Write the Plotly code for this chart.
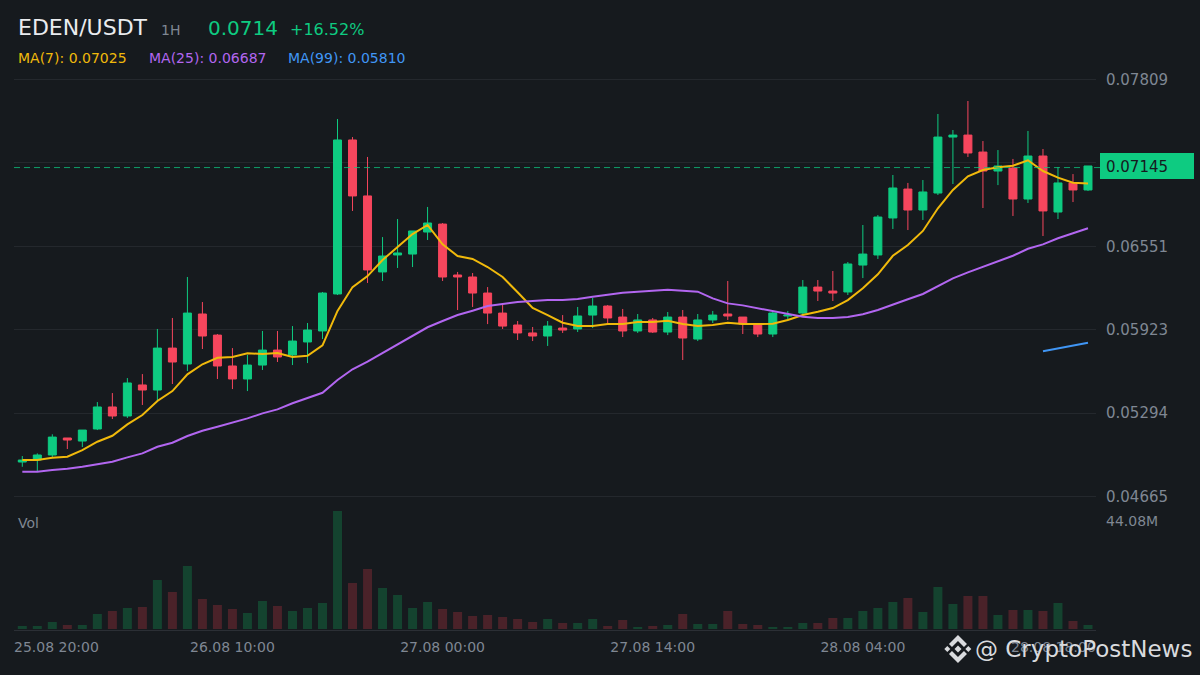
import pandas as pd
import plotly.graph_objects as go

W, H = 1200, 675
BG = "#161A1E"
GREEN = "#0ECB81"
RED = "#F6465D"
FONT = "DejaVu Sans"

hours = pd.date_range("2025-08-25 20:00", periods=72, freq="h")

opens = [.04925, .04940, .04978, .05106, .05083, .05174, .05340, .05272, .05506, .05468, .05784, .05664,
         .06041, .05882, .05649, .05551, .05656, .05769, .05732, .05830, .05913, .06192, .07353, .06931,
         .06358, .06486, .06493, .06659, .06719, .06335, .06320, .06199, .06048, .05958, .05898, .05875,
         .05935, .05928, .06033, .06101, .06018, .05913, .05996, .05905, .06018, .05852, .05996, .06041,
         .06018, .05965, .05890, .06026, .06048, .06244, .06214, .06207, .06410, .06486, .06765, .06983,
         .06825, .06953, .07375, .07390, .07262, .07119, .07142, .06908, .07232, .06810, .07029, .06976]
highs = [.04970, .04990, .05134, .05106, .05166, .05377, .05445, .05558, .05588, .05928, .06011, .06320,
         .06131, .05890, .05784, .05732, .05913, .05913, .05950, .05973, .06207, .07511, .07375, .07225,
         .06621, .06757, .06667, .06848, .06727, .06358, .06350, .06244, .06109, .05988, .05943, .05988,
         .06033, .06094, .06162, .06109, .06079, .06041, .06011, .06056, .06071, .06041, .06064, .06290,
         .06018, .05965, .06056, .06064, .06297, .06297, .06365, .06433, .06712, .06787, .07089, .07029,
         .07051, .07549, .07428, .07647, .07345, .07277, .07210, .07421, .07285, .07149, .07096, .07157]
lows = [.04889, .04852, .04960, .05023, .05038, .05166, .05249, .05257, .05355, .05377, .05513, .05611,
        .05777, .05551, .05475, .05460, .05619, .05679, .05656, .05671, .05852, .06184, .06818, .06275,
        .06290, .06388, .06395, .06599, .06290, .06071, .06094, .05965, .05928, .05845, .05837, .05800,
        .05898, .05905, .05935, .05965, .05867, .05898, .05898, .05882, .05694, .05837, .05973, .05996,
        .05890, .05867, .05867, .05996, .06033, .06139, .06139, .06184, .06312, .06456, .06682, .06674,
        .06750, .06938, .07021, .07225, .06840, .07013, .06780, .06878, .06629, .06757, .06885, .06968]
closes = [.04940, .04978, .05113, .05091, .05166, .05340, .05272, .05521, .05468, .05784, .05679, .06048,
          .05875, .05649, .05551, .05656, .05769, .05717, .05837, .05920, .06199, .07353, .06931, .06373,
          .06478, .06501, .06667, .06727, .06320, .06320, .06199, .06048, .05950, .05898, .05875, .05950,
          .05920, .06026, .06101, .06011, .05913, .05996, .05905, .06018, .05860, .05996, .06033, .06026,
          .05965, .05890, .06048, .06033, .06244, .06214, .06199, .06418, .06493, .06772, .06991, .06825,
          .06961, .07375, .07390, .07255, .07119, .07157, .06908, .07232, .06818, .07029, .06976, .07157]

ma7 = [.04940, .04940, .04957, .04965, .05015, .05078, .05123, .05209, .05279, .05385, .05460, .05586,
       .05662, .05711, .05717, .05745, .05739, .05747, .05717, .05726, .05805, .06064, .06244, .06327,
       .06448, .06544, .06644, .06712, .06566, .06478, .06456, .06395, .06320, .06205, .06086, .06033,
       .05975, .05950, .05950, .05965, .05965, .05981, .05981, .05990, .05965, .05950, .05958, .05975,
       .05965, .05965, .05968, .05996, .06033, .06058, .06086, .06146, .06235, .06340, .06480, .06561,
       .06667, .06838, .06976, .07079, .07127, .07147, .07159, .07200, .07119, .07069, .07031, .07025]
ma25 = [.04852, .04852, .04865, .04874, .04889, .04910, .04927, .04960, .04990, .05040, .05070, .05121,
        .05161, .05191, .05221, .05254, .05292, .05322, .05368, .05405, .05447, .05543, .05624, .05681,
        .05745, .05807, .05875, .05941, .05988, .06033, .06066, .06101, .06116, .06131, .06139, .06146,
        .06146, .06154, .06171, .06186, .06201, .06209, .06216, .06224, .06216, .06209, .06159, .06121,
        .06106, .06084, .06066, .06041, .06020, .06011, .06011, .06018, .06039, .06071, .06114, .06152,
        .06192, .06252, .06310, .06355, .06398, .06443, .06480, .06533, .06566, .06612, .06649, .06687]
ma99 = [.05760, .05781, .05803, .05824]

# volume in millions
volumes = [1.12, 1.12, 2.61, 1.49, 1.49, 5.60, 6.72, 7.84, 8.22, 18.30, 13.82, 23.53,
           11.21, 8.97, 7.47, 5.98, 10.46, 8.59, 6.72, 7.84, 9.71, 44.08, 17.18, 22.41,
           15.32, 12.70, 7.84, 10.09, 7.47, 6.35, 4.86, 5.23, 4.48, 3.74, 2.61, 3.74,
           2.24, 2.24, 3.74, 1.12, 3.36, 0.75, 1.12, 1.49, 5.60, 1.87, 1.87, 6.72,
           1.87, 1.49, 0.75, 0.75, 2.24, 2.24, 4.11, 4.11, 6.72, 7.84, 10.09, 11.58,
           6.35, 15.69, 9.34, 12.33, 12.33, 5.23, 7.10, 7.10, 6.72, 9.71, 2.99, 1.49]

price_ticks = [.04665, .05294, .05923, .06551, .07180, .07809]
price_labels = ["0.04665", "0.05294", "0.05923", "0.06551", "", "0.07809"]
time_ticks = ["2025-08-26 10:00", "2025-08-27 00:00", "2025-08-27 14:00", "2025-08-28 04:00"]
time_labels = ["26.08 10:00", "27.08 00:00", "27.08 14:00", "28.08 04:00"]
last_price = 0.07145


def px(x):
    return x / W


def py(y):
    return 1 - y / H


def poly(points):
    return "M " + " L ".join(f"{px(x):.5f},{py(y):.5f}" for x, y in points) + " Z"


def label(x, y, text, size, color, anchor="left"):
    fig.add_annotation(x=px(x), y=py(y), xref="paper", yref="paper", text=text, showarrow=False,
                       xanchor=anchor, yanchor="middle", xshift=-2 if anchor == "left" else 2,
                       font=dict(family=FONT, size=size, color=color))


fig = go.Figure()

fig.add_trace(go.Candlestick(
    x=hours, open=opens, high=highs, low=lows, close=closes, whiskerwidth=0,
    increasing=dict(line=dict(color=GREEN, width=1), fillcolor=GREEN),
    decreasing=dict(line=dict(color=RED, width=1), fillcolor=RED),
    xaxis="x", yaxis="y"))
fig.add_trace(go.Scatter(x=hours, y=ma7, mode="lines", line=dict(color="#F0B90B", width=2), xaxis="x", yaxis="y"))
fig.add_trace(go.Scatter(x=hours, y=ma25, mode="lines", line=dict(color="#B266F0", width=2), xaxis="x", yaxis="y"))
fig.add_trace(go.Scatter(x=hours[-4:], y=ma99, mode="lines", line=dict(color="#4096F5", width=2), xaxis="x", yaxis="y"))

bar_colors = ["#14432F" if c >= o else "#4A2229" for o, c in zip(opens, closes)]
fig.add_trace(go.Bar(x=hours, y=volumes, marker=dict(color=bar_colors, line=dict(width=0)), xaxis="x", yaxis="y2"))

fig.update_layout(
    width=W, height=H, margin=dict(l=0, r=0, t=0, b=0, pad=0),
    paper_bgcolor=BG, plot_bgcolor=BG, showlegend=False, hovermode=False,
    boxgap=0.467, boxgroupgap=0, bargap=0.4,
    font=dict(family=FONT, color="#7F8793", size=14),
    xaxis=dict(domain=[px(14), px(1096)], anchor="y2", type="date", automargin=False,
               range=["2025-08-25 19:26:48", "2025-08-28 19:32:00"],
               rangeslider=dict(visible=False), showgrid=False, zeroline=False,
               tickvals=time_ticks, ticktext=time_labels, ticks="outside", ticklen=5,
               tickcolor="rgba(0,0,0,0)", tickfont=dict(family=FONT, size=14, color="#7F8793")),
    yaxis=dict(domain=[py(496.5), py(79.5)], anchor="x", side="right", automargin=False,
               range=[price_ticks[0], price_ticks[-1]], tickvals=price_ticks, ticktext=price_labels,
               showgrid=True, gridcolor="#24282D", gridwidth=1, zeroline=False,
               ticks="outside", ticklen=6, tickcolor="rgba(0,0,0,0)",
               tickfont=dict(family=FONT, size=15, color="#7F8793")),
    yaxis2=dict(domain=[py(629), py(511)], anchor="x", side="right", automargin=False, range=[0, 44.08],
                showgrid=False, zeroline=False, showticklabels=False),
)

# grid lines at the two ends of the price range
for y_end in (79.5, 496.5):
    fig.add_shape(type="line", xref="paper", yref="paper", x0=px(14), x1=px(1096), y0=py(y_end), y1=py(y_end),
                  line=dict(color="#24282D", width=1), layer="below")

# current price line and tag, volume baseline
fig.add_shape(type="line", xref="paper", yref="y", x0=px(14), x1=px(1100), y0=last_price, y1=last_price,
              line=dict(color="rgba(14,203,129,0.75)", width=1, dash="6px,4px"))
fig.add_shape(type="rect", xref="paper", yref="paper", x0=px(1100), x1=px(1194), y0=py(179), y1=py(153),
              fillcolor=GREEN, line=dict(width=0))
fig.add_shape(type="line", xref="paper", yref="paper", x0=px(14), x1=px(1096), y0=py(630.5), y1=py(630.5),
              line=dict(color="#2B2F35", width=1))

# watermark logo
LOGO = "#D9DBDE"
diamonds = [(958, 649, 3.5), (947.3, 649, 3), (968.3, 649, 3)]
for cx, cy, r in diamonds:
    fig.add_shape(type="path", xref="paper", yref="paper", line=dict(width=0), fillcolor=LOGO,
                  path=poly([(cx, cy - r), (cx + r, cy), (cx, cy + r), (cx - r, cy)]))
top = [(958, 635), (967, 644), (964, 647), (958, 641), (952, 647), (949, 644)]
for pts in (top, [(x, 1298 - y) for x, y in top]):
    fig.add_shape(type="path", xref="paper", yref="paper", line=dict(width=0), fillcolor=LOGO, path=poly(pts))

label(18, 27, "EDEN/USDT", 22, "#EAECEF")
label(161, 30, "1H", 14, "#7F8793")
label(208, 28, "0.0714", 20, GREEN)
label(290, 29, "+16.52%", 16, GREEN)
label(18, 58, "MA(7): 0.07025", 14, "#F0B90B")
label(149, 58, "MA(25): 0.06687", 14, "#B266F0")
label(288, 58, "MA(99): 0.05810", 14, "#4096F5")
label(18, 523, "Vol", 14, "#7F8793")
label(1106, 521, "44.08M", 14, "#7F8793")
label(1106, 167, "0.07145", 15, "#161A1E")
label(14, 647, "25.08 20:00", 14, "#7F8793")
label(1096, 647, "28.08 18:00", 14, "#7F8793", anchor="right")
label(975, 649, "@ CryptoPostNews", 23, "#D9DBDE")

fig.write_html("out.html", config={"displayModeBar": False},
               post_script="document.body.style.margin='0';document.body.style.background='#161A1E';")
